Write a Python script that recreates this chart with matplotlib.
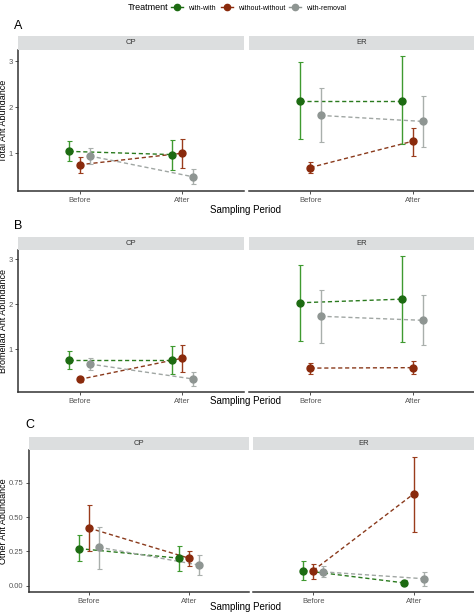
import matplotlib
matplotlib.use('Agg')
import matplotlib.pyplot as plt
from matplotlib.lines import Line2D

plt.rcParams['font.family'] = ['Liberation Sans', 'DejaVu Sans']

treatments = ['with-with', 'without-without', 'with-removal']
periods = ['Before', 'After']
sites = ['CP', 'ER']

point_col = {'with-with': '#1d6b12', 'without-without': '#8a2a0c', 'with-removal': '#8e9592'}
bar_col = {'with-with': '#3f9a30', 'without-without': '#9a3c1c', 'with-removal': '#a9afac'}
line_col = {'with-with': '#2a7a1e', 'without-without': '#8a3a1c', 'with-removal': '#a0a6a3'}

# mean, lower, upper for (Before, After)
total_cp = {
    'with-with': ([1.04, 0.97], [0.83, 0.64], [1.26, 1.29]),
    'without-without': ([0.75, 1.00], [0.58, 0.67], [0.91, 1.31]),
    'with-removal': ([0.94, 0.49], [0.77, 0.33], [1.12, 0.65]),
}
total_er = {
    'with-with': ([2.14, 2.14], [1.30, 1.19], [2.97, 3.11]),
    'without-without': ([0.69, 1.26], [0.56, 0.94], [0.81, 1.55]),
    'with-removal': ([1.82, 1.69], [1.24, 1.14], [2.41, 2.24]),
}
brom_cp = {
    'with-with': ([0.77, 0.77], [0.57, 0.46], [0.97, 1.08]),
    'without-without': ([0.33, 0.80], [0.27, 0.50], [0.39, 1.10]),
    'with-removal': ([0.67, 0.34], [0.53, 0.19], [0.81, 0.50]),
}
brom_er = {
    'with-with': ([2.03, 2.11], [1.19, 1.16], [2.87, 3.06]),
    'without-without': ([0.58, 0.59], [0.46, 0.44], [0.70, 0.74]),
    'with-removal': ([1.73, 1.64], [1.13, 1.10], [2.31, 2.21]),
}
other_cp = {
    'with-with': ([0.27, 0.20], [0.18, 0.11], [0.37, 0.29]),
    'without-without': ([0.42, 0.20], [0.25, 0.14], [0.59, 0.25]),
    'with-removal': ([0.28, 0.15], [0.12, 0.08], [0.43, 0.22]),
}
other_er = {
    'with-with': ([0.11, 0.02], [0.04, 0.005], [0.18, 0.04]),
    'without-without': ([0.11, 0.67], [0.05, 0.39], [0.16, 0.94]),
    'with-removal': ([0.10, 0.05], [0.06, 0.00], [0.14, 0.10]),
}

panels = [
    ('A', 'Total Ant Abundance', total_cp, total_er, (0.18, 3.24), [1, 2, 3], ['1', '2', '3']),
    ('B', 'Bromeliad Ant Abundance', brom_cp, brom_er, (0.05, 3.20), [1, 2, 3], ['1', '2', '3']),
    ('C', 'Other Ant Abundance', other_cp, other_er, (-0.047, 0.99),
     [0, 0.25, 0.5, 0.75], ['0.00', '0.25', '0.50', '0.75']),
]

W, H = 474, 614
fig = plt.figure(figsize=(W / 100, H / 100), dpi=100)


def box(x0, y0, x1, y1):
    return [x0 / W, 1 - y1 / H, (x1 - x0) / W, (y1 - y0) / H]


def fx(x):
    return x / W


def fy(y):
    return 1 - y / H


# pixel layout for each row: (left x of CP, right x of CP, left x of ER, top strip, top plot, bottom plot)
layout = [
    (18, 244, 249, 36, 50, 191),
    (18, 244, 249, 237, 250, 392),
    (29, 249, 253, 437, 450, 592),
]
letter_pos = [(14, 26), (14, 226), (25, 425)]
xlab_y = [210, 401, 607]

dodge = {'with-with': -0.1, 'without-without': 0.0, 'with-removal': 0.1}

for (letter, ylab, d_cp, d_er, ylim, yt, ytl), (cx0, cx1, ex0, st, pt, pb), lp, xy in zip(
        panels, layout, letter_pos, xlab_y):
    for site, data, x0, x1 in [('CP', d_cp, cx0, cx1), ('ER', d_er, ex0, 474)]:
        ax = fig.add_axes(box(x0, pt, x1, pb))
        sax = fig.add_axes(box(x0, st, x1, pt))
        sax.set_facecolor('#dcdedf')
        sax.set_xticks([])
        sax.set_yticks([])
        for s in sax.spines.values():
            s.set_visible(False)
        sax.text(0.5, 0.5, site, ha='center', va='center', fontsize=5.5, color='#333333',
                 transform=sax.transAxes)

        for tr in treatments:
            mean, lo, hi = data[tr]
            xs = [i + 1 + dodge[tr] for i in range(len(periods))]
            ax.plot(xs, mean, ls=(0, (3, 2)), lw=1.0, color=line_col[tr], zorder=2)
            ax.errorbar(xs, mean, yerr=[[m - l for m, l in zip(mean, lo)],
                                        [h - m for m, h in zip(mean, hi)]],
                        fmt='none', ecolor=bar_col[tr], elinewidth=1.0, capsize=1.8,
                        capthick=0.8, zorder=3)
            ax.plot(xs, mean, 'o', ms=5, color=point_col[tr], zorder=4)

        ax.set_xlim(0.4, 2.6)
        ax.set_ylim(*ylim)
        ax.set_xticks([1, 2])
        ax.set_xticklabels(periods, fontsize=5.5, color='#555555')
        ax.tick_params(axis='x', length=2.5, width=0.6, pad=1.5, color='#333333')
        ax.spines['top'].set_visible(False)
        ax.spines['right'].set_visible(False)
        ax.spines['bottom'].set_linewidth(1.1)
        ax.spines['bottom'].set_color('#333333')
        if site == 'CP':
            ax.set_yticks(yt)
            ax.set_yticklabels(ytl, fontsize=5.5, color='#555555')
            ax.tick_params(axis='y', length=2.5, width=0.6, pad=1.5, color='#333333')
            ax.spines['left'].set_linewidth(1.1)
            ax.spines['left'].set_color('#333333')
        else:
            ax.set_yticks([])
            ax.spines['left'].set_visible(False)

    fig.text(fx(4), fy((pt + pb) / 2), ylab, fontsize=6.5, rotation=90, ha='center', va='center')
    fig.text(fx(lp[0]), fy(lp[1]), letter, fontsize=9, ha='left', va='center')
    fig.text(fx(245), fy(xy), 'Sampling Period', fontsize=7, ha='center', va='center')

# legend on top, ggplot style
fig.text(fx(128), fy(7), 'Treatment', fontsize=6.5, ha='left', va='center_baseline')
leg_x = [177, 227, 295]
for tr, lx in zip(treatments, leg_x):
    fig.add_artist(Line2D([fx(lx - 6), fx(lx + 6)], [fy(7), fy(7)], transform=fig.transFigure,
                          color=point_col[tr], lw=1.0))
    fig.add_artist(Line2D([fx(lx)], [fy(7)], transform=fig.transFigure, marker='o', ms=4.5,
                          color=point_col[tr], lw=0))
    fig.text(fx(lx + 11), fy(7), tr, fontsize=5, ha='left', va='center_baseline')

fig.savefig('out.png', dpi=100)
